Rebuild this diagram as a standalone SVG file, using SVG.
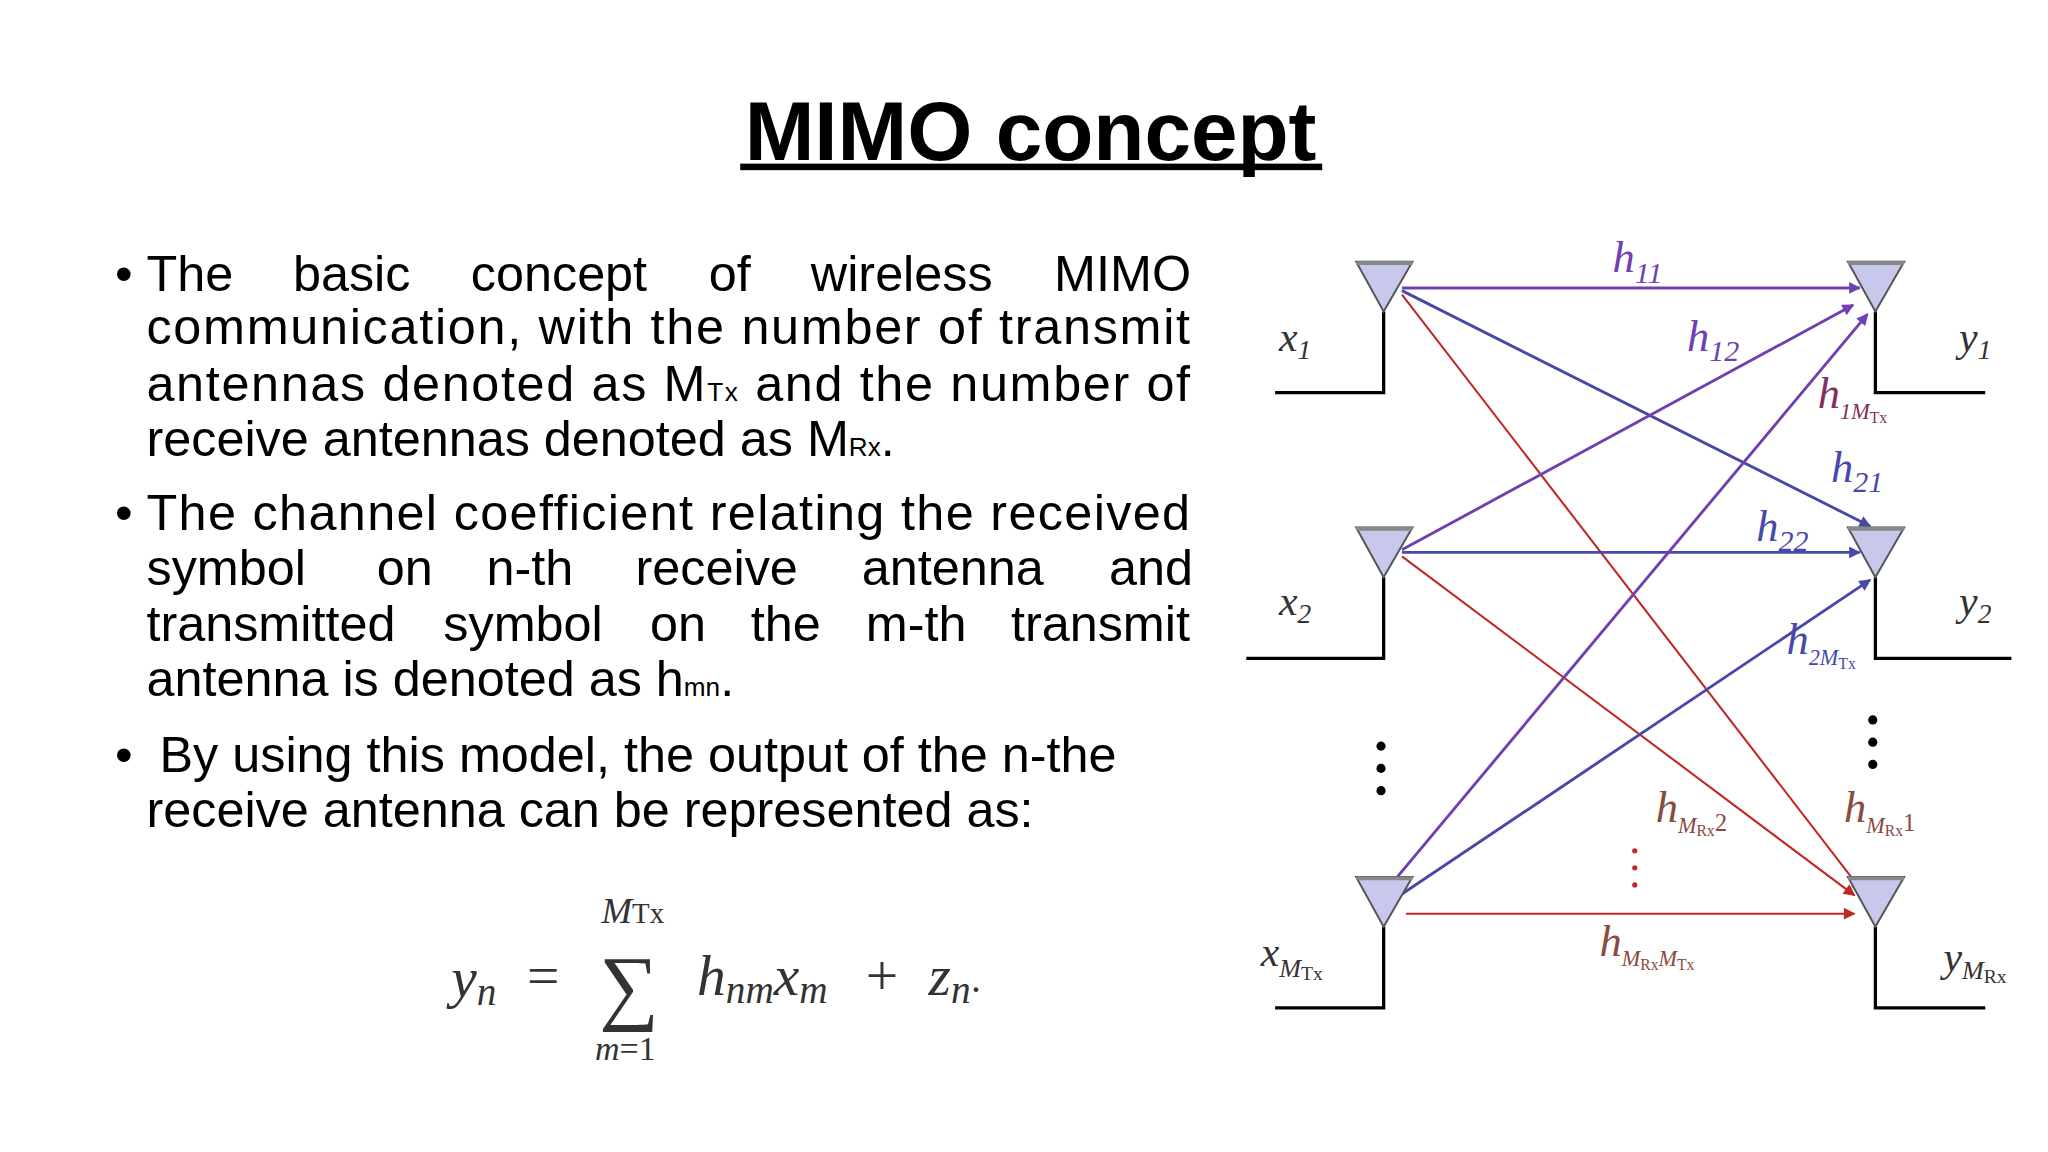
<svg xmlns="http://www.w3.org/2000/svg" width="2048" height="1152" viewBox="0 0 2048 1152">
<style>
.b{font-family:"Liberation Sans",Arial,sans-serif;font-size:38.5px;fill:#000}
.s{font-size:20px}
.m{font-family:"Liberation Serif","Times New Roman",serif;font-style:italic}
.ant{fill:#c8c8ec;stroke:#555;stroke-width:1.5}
.top{stroke:#888;stroke-width:3}
.w{fill:none;stroke:#000;stroke-width:2.5}
.pu{stroke:#7040b0;stroke-width:2.2}
.bl{stroke:#4848a8;stroke-width:2.2}
.rd{stroke:#c02828;stroke-width:1.6}
</style>
<defs>
<marker id="ap" viewBox="0 0 10 10" refX="9" refY="5" markerWidth="10" markerHeight="9" orient="auto" markerUnits="userSpaceOnUse"><path d="M0,0L10,5L0,10z" fill="#7040b0"/></marker>
<marker id="ab" viewBox="0 0 10 10" refX="9" refY="5" markerWidth="10" markerHeight="9" orient="auto" markerUnits="userSpaceOnUse"><path d="M0,0L10,5L0,10z" fill="#4848a8"/></marker>
<marker id="ar" viewBox="0 0 10 10" refX="9" refY="5" markerWidth="10" markerHeight="9" orient="auto" markerUnits="userSpaceOnUse"><path d="M0,0L10,5L0,10z" fill="#c02828"/></marker>
</defs>
<rect width="2048" height="1152" fill="#fff"/>
<g transform="scale(1.3078 1.309)">
<g id="title">
<text x="788" y="122" text-anchor="middle" font-family="Liberation Sans,Arial,sans-serif" font-weight="bold" font-size="64">MIMO concept</text>
<rect x="566" y="125" width="445" height="5" fill="#000"/>
</g>
<g id="bullets" class="b">
<text x="88" y="222">•</text>
<text y="222"><tspan x="112">The</tspan><tspan x="224">basic</tspan><tspan x="360">concept</tspan><tspan x="542">of</tspan><tspan x="620">wireless</tspan><tspan x="806">MIMO</tspan></text>
<text x="112" y="263" textLength="798" lengthAdjust="spacing">communication, with the number of transmit</text>
<text x="112" y="306" textLength="798" lengthAdjust="spacing">antennas denoted as M<tspan class="s">Tx</tspan> and the number of</text>
<text x="112" y="348">receive antennas denoted as M<tspan class="s">Rx</tspan>.</text>
<text x="88" y="405">•</text>
<text x="112" y="405" textLength="798" lengthAdjust="spacing">The channel coefficient relating the received</text>
<text y="447"><tspan x="112">symbol</tspan><tspan x="288">on</tspan><tspan x="372">n-th</tspan><tspan x="486">receive</tspan><tspan x="659">antenna</tspan><tspan x="848">and</tspan></text>
<text y="490"><tspan x="112">transmitted</tspan><tspan x="339">symbol</tspan><tspan x="497">on</tspan><tspan x="574">the</tspan><tspan x="662">m-th</tspan><tspan x="773">transmit</tspan></text>
<text x="112" y="532">antenna is denoted as h<tspan class="s">mn</tspan>.</text>
<text x="88" y="590">•</text>
<text x="122" y="590">By using this model, the output of the n-the</text>
<text x="112" y="632">receive antenna can be represented as:</text>
</g>
<g id="equation" class="m" fill="#333">
<text x="345" y="762" font-size="44">y<tspan font-size="30" dy="6">n</tspan></text>
<text x="403" y="760" font-size="44" font-style="normal">=</text>
<text x="458" y="775" font-size="64" font-style="normal">∑</text>
<text x="460" y="705" font-size="28">M<tspan font-size="22" font-style="normal">Tx</tspan></text>
<text x="455" y="810" font-size="26">m<tspan font-style="normal">=1</tspan></text>
<text x="533" y="760" font-size="44">h<tspan font-size="30" dy="6">nm</tspan><tspan dy="-6">x</tspan><tspan font-size="30" dy="6">m</tspan></text>
<text x="662" y="760" font-size="44" font-style="normal">+</text>
<text x="710" y="760" font-size="44">z<tspan font-size="30" dy="6">n·</tspan></text>
</g>
<g id="connectors" fill="none">
<line class="pu" x1="1072" y1="220" x2="1422" y2="220" marker-end="url(#ap)"/>
<line class="bl" x1="1072" y1="222" x2="1430" y2="402" marker-end="url(#ab)"/>
<line class="rd" x1="1072" y1="225" x2="1424" y2="681" marker-end="url(#ar)"/>
<line class="pu" x1="1072" y1="420" x2="1417" y2="233" marker-end="url(#ap)"/>
<line class="bl" x1="1072" y1="422" x2="1422" y2="422" marker-end="url(#ab)"/>
<line class="rd" x1="1072" y1="425" x2="1418" y2="684" marker-end="url(#ar)"/>
<line class="pu" x1="1060" y1="680" x2="1428" y2="240" marker-end="url(#ap)"/>
<line class="bl" x1="1072" y1="683" x2="1430" y2="443" marker-end="url(#ab)"/>
<line class="rd" x1="1075" y1="698" x2="1418" y2="698" marker-end="url(#ar)"/>
</g>
<g id="tx1"><path class="w" d="M1058,238V300H975"/><path class="ant" d="M1037,200H1080L1058,238z"/><line class="top" x1="1037" y1="201" x2="1080" y2="201"/>
<text class="m" x="978" y="268" font-size="32" fill="#333">x<tspan font-size="21" dy="6">1</tspan></text></g>
<g id="tx2"><path class="w" d="M1058,441V503H953"/><path class="ant" d="M1037,403H1080L1058,441z"/><line class="top" x1="1037" y1="404" x2="1080" y2="404"/>
<text class="m" x="978" y="470" font-size="32" fill="#333">x<tspan font-size="21" dy="6">2</tspan></text></g>
<g id="txM"><path class="w" d="M1058,708V770H975"/><path class="ant" d="M1037,670H1080L1058,708z"/><line class="top" x1="1037" y1="671" x2="1080" y2="671"/>
<text class="m" x="964" y="738" font-size="32" fill="#333">x<tspan font-size="20" dy="8">M</tspan><tspan font-size="15" font-style="normal" dy="3">Tx</tspan></text></g>
<g id="rx1"><path class="w" d="M1434,238V300H1518"/><path class="ant" d="M1413,200H1456L1434,238z"/><line class="top" x1="1413" y1="201" x2="1456" y2="201"/>
<text class="m" x="1498" y="268" font-size="32" fill="#333">y<tspan font-size="21" dy="6">1</tspan></text></g>
<g id="rx2"><path class="w" d="M1434,441V503H1538"/><path class="ant" d="M1413,403H1456L1434,441z"/><line class="top" x1="1413" y1="404" x2="1456" y2="404"/>
<text class="m" x="1498" y="470" font-size="32" fill="#333">y<tspan font-size="21" dy="6">2</tspan></text></g>
<g id="rxM"><path class="w" d="M1434,708V770H1518"/><path class="ant" d="M1413,670H1456L1434,708z"/><line class="top" x1="1413" y1="671" x2="1456" y2="671"/>
<text class="m" x="1486" y="742" font-size="32" fill="#333">y<tspan font-size="20" dy="6">M</tspan><tspan font-size="15" font-style="normal" dy="3">Rx</tspan></text></g>
<g id="dots">
<circle cx="1056" cy="570" r="3.5"/><circle cx="1056" cy="587" r="3.5"/><circle cx="1056" cy="604" r="3.5"/>
<circle cx="1432" cy="550" r="3.5"/><circle cx="1432" cy="567" r="3.5"/><circle cx="1432" cy="584" r="3.5"/>
<circle cx="1250" cy="650" r="2" fill="#c02828"/><circle cx="1250" cy="663" r="2" fill="#c02828"/><circle cx="1250" cy="676" r="2" fill="#c02828"/>
</g>
<g id="labels" class="m" font-size="34">
<text x="1233" y="208" fill="#7040b0">h<tspan font-size="23" dy="8">11</tspan></text>
<text x="1290" y="268" fill="#7040b0">h<tspan font-size="23" dy="8">12</tspan></text>
<text x="1390" y="312" fill="#803060">h<tspan font-size="17" dy="8">1M</tspan><tspan font-size="12" font-style="normal" dy="3">Tx</tspan></text>
<text x="1400" y="368" fill="#4848a8">h<tspan font-size="23" dy="8">21</tspan></text>
<text x="1343" y="413" fill="#4848a8">h<tspan font-size="23" dy="8">22</tspan></text>
<text x="1366" y="500" fill="#4848a8">h<tspan font-size="17" dy="8">2M</tspan><tspan font-size="12" font-style="normal" dy="3">Tx</tspan></text>
<text x="1266" y="628" fill="#8a4a40">h<tspan font-size="17" dy="8">M</tspan><tspan font-size="12" font-style="normal" dy="3">Rx</tspan><tspan font-size="19" dy="-4" font-style="normal">2</tspan></text>
<text x="1410" y="628" fill="#8a4a40">h<tspan font-size="17" dy="8">M</tspan><tspan font-size="12" font-style="normal" dy="3">Rx</tspan><tspan font-size="19" dy="-4" font-style="normal">1</tspan></text>
<text x="1223" y="730" fill="#8a4a40">h<tspan font-size="17" dy="8">M</tspan><tspan font-size="12" font-style="normal" dy="3">Rx</tspan><tspan font-size="17" dy="-3">M</tspan><tspan font-size="12" font-style="normal" dy="3">Tx</tspan></text>
</g>
</g>
</svg>
